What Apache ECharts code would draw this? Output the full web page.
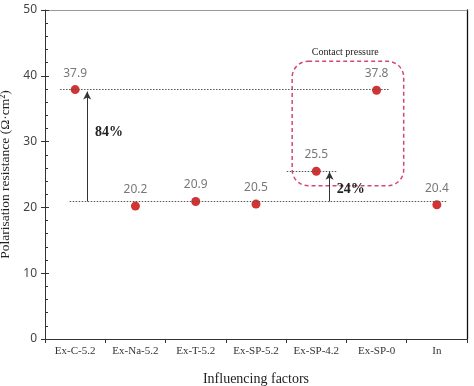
<!DOCTYPE html>
<html><head><meta charset="utf-8">
<script src="https://cdn.jsdelivr.net/npm/echarts@6/dist/echarts.min.js"></script>
<style>html,body{margin:0;padding:0;background:#fff}#c{width:474px;height:386px}</style>
</head><body><div id="c"></div>
<script>
const categories = ['Ex-C-5.2','Ex-Na-5.2','Ex-T-5.2','Ex-SP-5.2','Ex-SP-4.2','Ex-SP-0','In'];
const values = [37.9, 20.2, 20.9, 20.5, 25.5, 37.8, 20.4];
const yTicks = [0, 10, 20, 30, 40, 50];
// annotation anchors in data space (x: category index position, y: value)
const refLines = [
  {from: [-0.25, 37.9], to: [5.22, 37.9]},
  {from: [-0.09, 20.9], to: [6.17, 20.9]},
  {from: [3.51, 25.5], to: [4.34, 25.5]}
];
const arrows = [
  {from: [0.2, 20.9], to: [0.2, 37.6]},
  {from: [4.22, 20.9], to: [4.22, 25.4]}
];
const texts = [
  {pos: [0.56, 31.4], text: '84%', size: 14, bold: true},
  {pos: [4.57, 22.8], text: '24%', size: 14, bold: true},
  {pos: [4.48, 43.6], text: 'Contact pressure', size: 10, bold: false}
];
const box = {x0: 3.6, x1: 5.45, y0: 23.3, y1: 42.2};

const serif = '"Liberation Serif", "DejaVu Serif", serif';
const sans = '"Noto Sans", "DejaVu Sans", sans-serif';

const chart = echarts.init(document.getElementById('c'), null, {renderer: 'canvas'});
const markLineData = [];
refLines.forEach(l => markLineData.push([
  {coord: l.from, symbol: 'none', lineStyle: {type: [1.5, 1.5], color: '#555', width: 1}},
  {coord: l.to, symbol: 'none'}
]));
arrows.forEach(a => markLineData.push([
  {coord: a.from, symbol: 'none', lineStyle: {type: 'solid', color: '#333', width: 1}},
  {coord: a.to, symbol: 'arrow', symbolSize: [6, 8]}
]));

chart.setOption({
  animation: false,
  grid: {left: 45, right: 7, top: 10, bottom: 47, containLabel: false, outerBoundsMode: 'none'},
  xAxis: [
    {type: 'category', data: categories, position: 'bottom',
     name: 'Influencing factors', nameLocation: 'middle', nameGap: 33,
     nameTextStyle: {fontFamily: serif, fontSize: 14, color: '#222'},
     axisLine: {onZero: false, lineStyle: {color: '#333', width: 1}},
     axisTick: {show: true, interval: 0, length: 4, inside: false, lineStyle: {color: '#333'}},
     axisLabel: {interval: 0, fontFamily: serif, fontSize: 11, color: '#333', margin: 7},
     splitLine: {show: false}},
    {type: 'value', min: -0.5, max: 6.5, position: 'top',
     axisLine: {show: true, onZero: false, lineStyle: {color: '#999', width: 1}},
     axisTick: {show: false}, axisLabel: {show: false}, splitLine: {show: false}}
  ],
  yAxis: [
    {type: 'value', min: 0, max: 50, interval: 10, position: 'left',
     name: 'Polarisation resistance (Ω·cm²)', nameLocation: 'middle', nameGap: 30,
     nameTextStyle: {fontFamily: serif, fontSize: 13.5, color: '#222'},
     axisLine: {show: true, onZero: false, lineStyle: {color: '#333', width: 1}},
     axisTick: {show: true, length: 4, inside: false, lineStyle: {color: '#333'}},
     axisLabel: {fontFamily: sans, fontSize: 12, color: '#444', margin: 8,
       formatter: v => yTicks.includes(v) ? String(v) : ''},
     splitLine: {show: false}},
    {type: 'value', min: 0, max: 50, interval: 10, position: 'left',
     axisLine: {show: false, onZero: false},
     axisTick: {show: true, inside: true, length: 4, lineStyle: {color: '#333'}},
     minorTick: {show: true, splitNumber: 5, length: 3, lineStyle: {color: '#333'}},
     axisLabel: {show: false}, splitLine: {show: false}},
    {type: 'value', min: 0, max: 50, interval: 10, position: 'right',
     axisLine: {show: true, onZero: false, lineStyle: {color: '#111', width: 1.3}},
     axisTick: {show: false}, axisLabel: {show: false}, splitLine: {show: false}}
  ],
  series: [
    {type: 'line', xAxisIndex: 1, yAxisIndex: 0, data: [], silent: true,
     markLine: {silent: true, symbol: 'none', label: {show: false}, data: markLineData, animation: false}},
    {type: 'custom', xAxisIndex: 1, yAxisIndex: 0, silent: true,
     data: [[box.x0, box.y0, box.x1, box.y1]],
     renderItem: (params, api) => {
       const p0 = api.coord([api.value(0), api.value(3)]);
       const p1 = api.coord([api.value(2), api.value(1)]);
       return {type: 'rect', shape: {x: p0[0], y: p0[1], width: p1[0]-p0[0], height: p1[1]-p0[1], r: 16},
         style: {fill: 'none', stroke: '#d2496e', lineWidth: 1.5, lineDash: [4, 3]}};
     }},
    {type: 'custom', xAxisIndex: 1, yAxisIndex: 0, silent: true,
     data: texts.map(t => [t.pos[0], t.pos[1]]),
     renderItem: (params, api) => {
       const t = texts[params.dataIndex];
       const p = api.coord([api.value(0), api.value(1)]);
       return {type: 'text', x: p[0], y: p[1],
         style: {text: t.text, fill: '#222', font: (t.bold ? 'bold ' : '') + t.size + 'px ' + serif,
           align: 'center', verticalAlign: 'middle'}};
     }},
    {type: 'scatter', xAxisIndex: 0, yAxisIndex: 0, data: values,
     symbol: 'circle', symbolSize: 9, itemStyle: {color: '#c80000'},
     label: {show: true, position: 'top', distance: 6, fontFamily: sans, fontSize: 12, color: '#555',
       formatter: p => p.value.toFixed(1)}}
  ]
});
</script>
</body></html>
